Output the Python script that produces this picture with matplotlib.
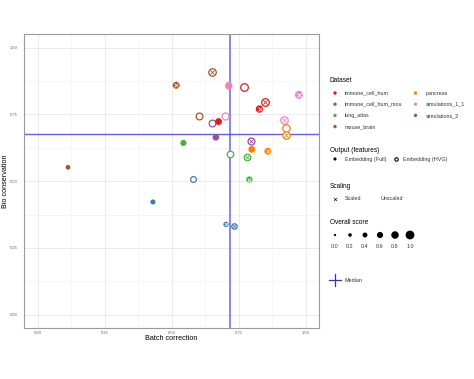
import matplotlib
matplotlib.use("Agg")
import matplotlib.pyplot as plt
from matplotlib.ticker import MultipleLocator

plt.rcParams["font.family"] = ["Liberation Sans", "DejaVu Sans"]

# data
batch = [0.649, 0.517, 0.713, 0.769, 0.975, 0.848, 0.828, 0.602, 0.699, 0.649,
         0.675, 0.920, 0.925, 0.925, 0.665, 0.544, 0.795, 0.799, 0.859, 0.718,
         0.780, 0.790, 0.581, 0.113, 0.430, 0.703, 0.733]
bio = [0.907, 0.859, 0.857, 0.851, 0.823, 0.797, 0.770, 0.744, 0.744, 0.716,
       0.723, 0.728, 0.699, 0.673, 0.664, 0.643, 0.649, 0.619, 0.612, 0.600,
       0.592, 0.506, 0.509, 0.552, 0.422, 0.338, 0.332]
overall = [0.80, 0.72, 0.80, 0.82, 0.88, 0.82, 0.79, 0.69, 0.73, 0.69,
           0.70, 0.80, 0.79, 0.77, 0.66, 0.60, 0.71, 0.69, 0.71, 0.65,
           0.67, 0.62, 0.54, 0.38, 0.43, 0.48, 0.49]
dataset = ["simulations_2", "simulations_2", "simulations_1_1", "immune_cell_hum",
           "simulations_1_1", "immune_cell_hum", "immune_cell_hum", "simulations_2",
           "simulations_1_1", "mouse_brain", "immune_cell_hum", "simulations_1_1",
           "pancreas", "pancreas", "mouse_brain", "lung_atlas", "mouse_brain",
           "pancreas", "pancreas", "lung_atlas", "lung_atlas", "lung_atlas",
           "immune_cell_hum_mou", "simulations_2", "immune_cell_hum_mou",
           "immune_cell_hum_mou", "immune_cell_hum_mou"]
features = ["HVG", "Full", "Full", "HVG", "Full", "HVG", "Full", "HVG", "HVG", "HVG",
            "Full", "HVG", "HVG", "HVG", "Full", "Full", "HVG", "Full", "Full", "HVG",
            "HVG", "Full", "HVG", "Full", "Full", "Full", "HVG"]
scaled = [True, True, False, False, True, True, True, False, False, False,
          False, True, False, True, False, False, True, False, True, False,
          True, True, False, False, False, True, True]

datasets = ["immune_cell_hum", "immune_cell_hum_mou", "lung_atlas", "mouse_brain",
            "pancreas", "simulations_1_1", "simulations_2"]
palette = ["#E41A1C", "#377EB8", "#4DAF4A", "#984EA3", "#FF7F00", "#F781BF", "#A65628"]
colors = dict(zip(datasets, palette))

score_ticks = [0.0, 0.2, 0.4, 0.6, 0.8, 1.0]


def marker_size(score):
    # diameter in pixels -> points^2
    d = 2.3 + 6.5 * score
    return (d * 0.72) ** 2


fig = plt.figure(figsize=(4.74, 3.79), dpi=100)
ax = fig.add_axes([0.0513, 0.1346, 0.6217, 0.775])

ax.set_xlim(-0.05, 1.05)
ax.set_ylim(-0.05, 1.05)
ax.xaxis.set_major_locator(MultipleLocator(0.25))
ax.yaxis.set_major_locator(MultipleLocator(0.25))
ax.xaxis.set_minor_locator(MultipleLocator(0.125))
ax.yaxis.set_minor_locator(MultipleLocator(0.125))
ax.grid(True, which="major", color="#e8e8e8", lw=0.6)
ax.grid(True, which="minor", color="#f2f2f2", lw=0.4)
ax.set_axisbelow(True)
ax.tick_params(which="both", length=0, labelsize=3.0, labelcolor="#666666")
ax.tick_params(axis="x", pad=2.5)
ax.tick_params(axis="y", pad=5)
ax.xaxis.set_major_formatter(plt.FuncFormatter(lambda v, p: f"{v:.2f}"))
ax.yaxis.set_major_formatter(plt.FuncFormatter(lambda v, p: f"{v:.2f}"))
for s in ax.spines.values():
    s.set_color("#9a9a9a")
    s.set_linewidth(0.8)
ax.set_xlabel("Batch correction", fontsize=5.2)
ax.set_ylabel("Bio conservation", fontsize=5.2)
ax.xaxis.set_label_coords(0.5, -0.025)
ax.yaxis.set_label_coords(-0.052, 0.5)

# medians
med_x = 0.7175
med_y = 0.675
ax.axvline(med_x, color="#5555dd", lw=1.4, alpha=0.7, zorder=1)
ax.axhline(med_y, color="#4444dd", lw=1.0, alpha=0.85, zorder=1)

for i in range(len(batch)):
    c = colors[dataset[i]]
    s = marker_size(overall[i])
    if features[i] == "Full":
        ax.scatter(batch[i], bio[i], s=s, color=c, edgecolors="none", zorder=3)
        xc = "white"
    else:
        ax.scatter(batch[i], bio[i], s=s, facecolors="white", edgecolors=c,
                   linewidths=0.9, zorder=3)
        xc = c
    if scaled[i]:
        ax.scatter(batch[i], bio[i], s=s * 0.3, marker="x", color=xc,
                   linewidths=0.6, zorder=4)

# legend drawn in pixel coordinates
lg = fig.add_axes([0, 0, 1, 1])
lg.set_xlim(0, 474)
lg.set_ylim(379, 0)
lg.axis("off")
title_fs = 4.7
item_fs = 3.9
txt_c = "#333333"

lg.text(330, 80, "Dataset", fontsize=title_fs, va="center")
for k, name in enumerate(datasets):
    col, row = divmod(k, 4)
    x0 = 335 + col * 80.5
    y0 = 93 + row * 11.2
    lg.scatter(x0, y0, s=6, color=palette[k], edgecolors="none")
    lg.text(x0 + 10, y0, name, fontsize=item_fs, va="center", color=txt_c)

lg.text(330, 150, "Output (features)", fontsize=title_fs, va="center")
lg.scatter(335, 159, s=5, color="black", edgecolors="none")
lg.text(345, 159, "Embedding (Full)", fontsize=item_fs, va="center", color=txt_c)
lg.scatter(396, 159, s=6, facecolors="white", edgecolors="black", linewidths=0.8)
lg.text(403, 159, "Embedding (HVG)", fontsize=item_fs, va="center", color=txt_c)

lg.text(330, 186, "Scaling", fontsize=title_fs, va="center")
lg.scatter(335, 199, s=4, marker="x", color="black", linewidths=0.5)
lg.text(345, 199, "Scaled", fontsize=item_fs, va="center", color=txt_c)
lg.text(381, 199, "Unscaled", fontsize=item_fs, va="center", color=txt_c)

lg.text(330, 223, "Overall score", fontsize=title_fs, va="center")
for k, v in enumerate(score_ticks):
    x0 = 335 + k * 15
    lg.scatter(x0, 235, s=marker_size(v), color="black", edgecolors="none")
    lg.text(x0, 247, f"{v:.1f}", fontsize=item_fs, ha="center", va="center",
            color=txt_c)

lg.plot([329, 341], [280, 280], color="#3333cc", lw=0.9)
lg.plot([335, 335], [274, 286], color="#3333cc", lw=0.9)
lg.text(345, 280, "Median", fontsize=item_fs, va="center", color=txt_c)

fig.savefig("out.png", dpi=100)
